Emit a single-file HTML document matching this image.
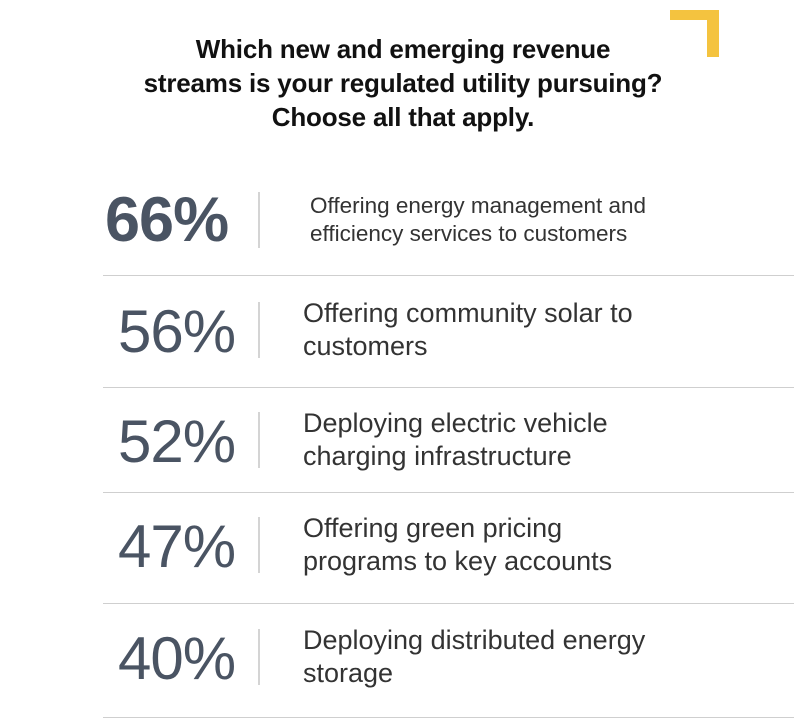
<!DOCTYPE html>
<html><head><meta charset="utf-8">
<style>
body{margin:0;width:794px;height:720px;background:#fff;overflow:hidden;position:relative;font-family:"Liberation Sans",sans-serif}
#title{position:absolute;left:0;width:806px;top:32px;text-align:center;font-weight:bold;font-size:26px;line-height:34px;color:#111;letter-spacing:-0.2px}
.corner{position:absolute;left:670px;top:10px;width:37px;height:37px;border-top:10px solid #f4c33f;border-right:12px solid #f4c33f}
.row{position:absolute;left:103px;width:691px}
.sep{position:absolute;left:103px;width:691px;height:1px;background:#cfcfcf}
.num{position:absolute;left:15px;width:135px;text-align:left;font-size:60px;color:#4a5463;font-weight:normal;letter-spacing:-1px}
.num.b{font-weight:bold;left:2px;text-align:left;font-size:63px;letter-spacing:-1px}
.vd{position:absolute;left:155px;width:2px;background:#d4d4d4}
.lab{position:absolute;left:200px;color:#333;font-size:27px;line-height:33px}
.lab.s{left:207px;font-size:22.5px;line-height:28px}
</style></head><body>
<div id="title">Which new and emerging revenue<br>streams is your regulated utility pursuing?<br>Choose all that apply.</div>
<div class="corner"></div>
<div id="rows"></div>
<script>
const values=[66,56,52,47,40];
const labels=["Offering energy management and<br>efficiency services to customers","Offering community solar to<br>customers","Deploying electric vehicle<br>charging infrastructure","Offering green pricing<br>programs to key accounts","Deploying distributed energy<br>storage"];
const centers=[220,330,440,545,657];
const seps=[275,387,492,603,717];
const root=document.getElementById('rows');
values.forEach((v,i)=>{
  const r=document.createElement('div');r.className='row';r.style.top=(centers[i]-35)+'px';r.style.height='70px';
  
  
  const n=document.createElement('div');n.className='num'+(i===0?' b':'');n.style.top=(i===0?'2px':'4px');n.style.lineHeight='66px';n.textContent=v+'%';
  
  
  const d=document.createElement('div');d.className='vd';d.style.top='7px';d.style.height='56px';
  
  
  const l=document.createElement('div');l.className='lab'+(i===0?' s':'');l.innerHTML=labels[i];
  l.style.top=(i===0?'7px':'2px');
  
  
  r.append(n,d,l);root.appendChild(r);
  const s=document.createElement('div');s.className='sep';s.style.top=seps[i]+'px';
  
  
  root.appendChild(s);
});
</script>
</body></html>
